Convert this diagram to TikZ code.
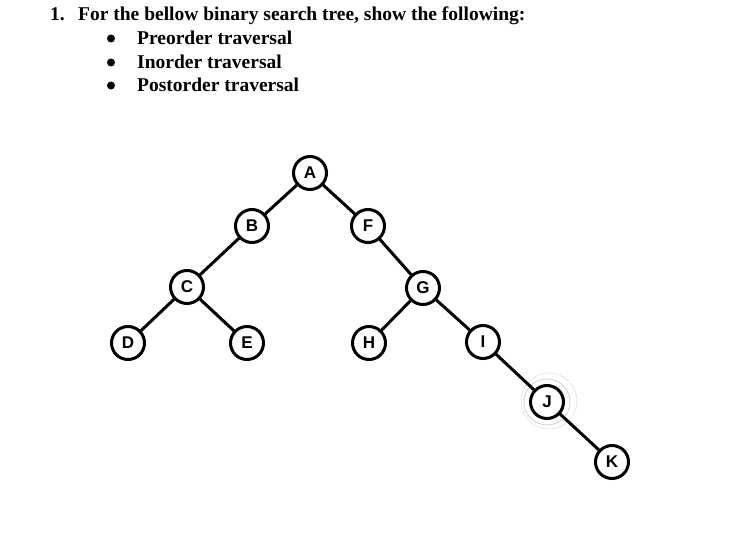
\documentclass[tikz,border=0pt]{standalone}
\usepackage{fontspec}
\setmainfont{Liberation Serif}
\newfontfamily\nodefont{Liberation Sans}
\begin{document}
\begin{tikzpicture}[x=1pt,y=-1pt,
  tnode/.style={circle,draw=black,line width=3pt,minimum size=33pt,inner sep=0pt,
    font=\nodefont\bfseries\fontsize{17}{17}\selectfont},
  edge/.style={line width=3pt,black},
  bul/.style={circle,fill=black,inner sep=0pt,minimum size=8pt},
  qtext/.style={anchor=base west,inner sep=0pt,font=\bfseries\fontsize{19.5}{19.5}\selectfont}]
\useasboundingbox[fill=white] (0,0) rectangle (736,551);
% header text
\node[qtext] (num) at (50,21) {1.};
\node[qtext] (q) at (78,21) {For the bellow binary search tree, show the following:};
\node[bul] (b1) at (111,38.5) {};
\node[qtext] (t1) at (137,45) {Preorder traversal};
\node[bul] (b2) at (111,62.5) {};
\node[qtext] (t2) at (137,69) {Inorder traversal};
\node[bul] (b3) at (111,85.5) {};
\node[qtext] (t3) at (137,92) {Postorder traversal};
% faint rings round J
\draw[gray!35,line width=0.8pt] (547,402) circle (23);
\draw[gray!25,line width=0.6pt] (549,401) circle (28);
% tree
\node[tnode] (A) at (310,173) {A};
\node[tnode] (B) at (252,226) {B};
\node[tnode] (F) at (368,226) {F};
\node[tnode] (C) at (187,287) {C};
\node[tnode] (D) at (128,343) {D};
\node[tnode] (E) at (247,343) {E};
\node[tnode] (G) at (423,288) {G};
\node[tnode] (H) at (369,343) {H};
\node[tnode] (I) at (483,342) {I};
\node[tnode] (J) at (547,402) {J};
\node[tnode] (K) at (612,462) {K};
\draw[edge] (A) -- (B);
\draw[edge] (A) -- (F);
\draw[edge] (B) -- (C);
\draw[edge] (C) -- (D);
\draw[edge] (C) -- (E);
\draw[edge] (F) -- (G);
\draw[edge] (G) -- (H);
\draw[edge] (G) -- (I);
\draw[edge] (I) -- (J);
\draw[edge] (J) -- (K);
\end{tikzpicture}
\end{document}
